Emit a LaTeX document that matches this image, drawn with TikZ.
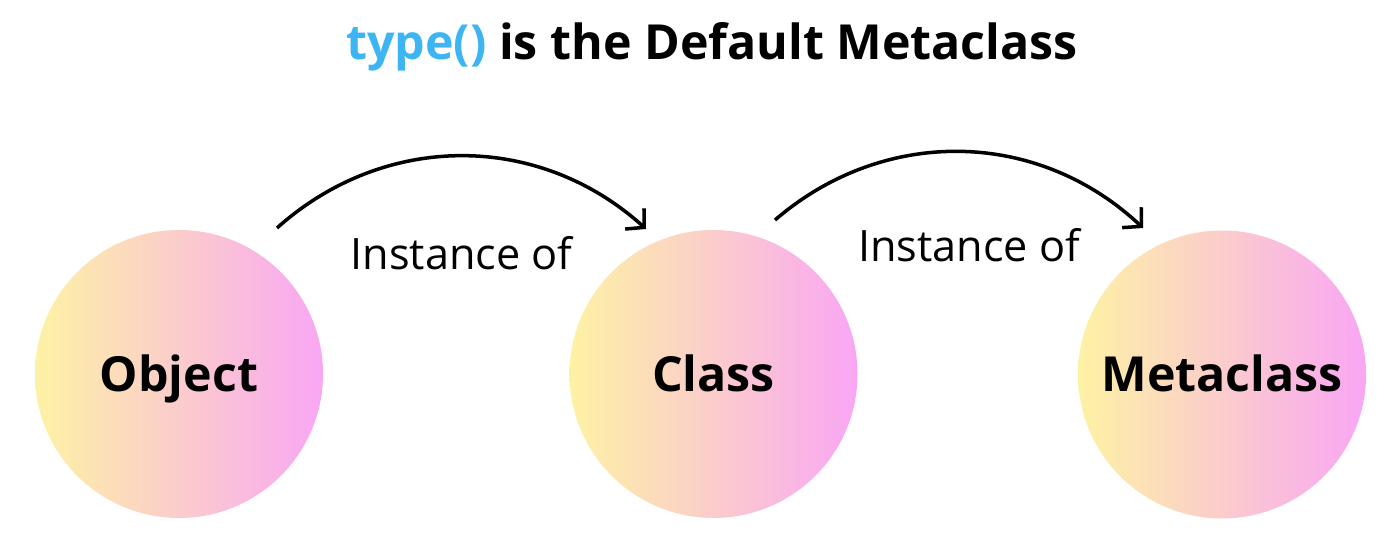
\documentclass[tikz,border=0pt]{standalone}
\usepackage{fontspec}
\setmainfont{Open Sans}
\usepackage{xcolor}
\usepackage{tikz}
\usetikzlibrary{shapes.geometric, arrows.meta}
\definecolor{typeblue}{HTML}{3DB5F2}
\definecolor{bubbleyellow}{HTML}{FDF2A4}
\definecolor{bubblepeach}{HTML}{F9D3CD}
\definecolor{bubblepink}{HTML}{F9A6F4}
\tikzstyle{bubble} = [circle, minimum size=5.76cm, inner sep=0pt, text height=0.70cm, text depth=0pt, left color=bubbleyellow, middle color=bubblepeach, right color=bubblepink, font=\fontsize{27.5}{33}\selectfont\bfseries]
\tikzstyle{relation} = [anchor=base, font=\fontsize{24.6}{30}\selectfont]
\tikzstyle{arrow} = [line width=2pt, -{Straight Barb[length=2.6mm, width=5.6mm]}]

\begin{document}
\begin{tikzpicture}
        \useasboundingbox (0,0) rectangle (28,10.94);
        \node (title) [anchor=base, font=\fontsize{27.5}{33}\selectfont\bfseries] at (14.24,9.74) {\textcolor{typeblue}{type()} is the Default Metaclass};

        \node (object) [bubble] at (3.58,3.46) {Object};
        \node (class) [bubble] at (14.27,3.46) {Class};
        \node (metaclass) [bubble] at (24.44,3.45) {Metaclass};

        \coordinate (objectout) at (5.54,6.38);
        \coordinate (classin) at (12.92,6.36);
        \coordinate (classout) at (15.50,6.54);
        \coordinate (metaclassin) at (22.86,6.38);

        \node (inst1) [relation] at (9.23,5.54) {Instance of};
        \node (inst2) [relation] at (19.38,5.70) {Instance of};

        \draw [arrow] (objectout) to[bend left=42] (classin);
        \draw [arrow] (classout) to[bend left=42] (metaclassin);
\end{tikzpicture}
\end{document}
